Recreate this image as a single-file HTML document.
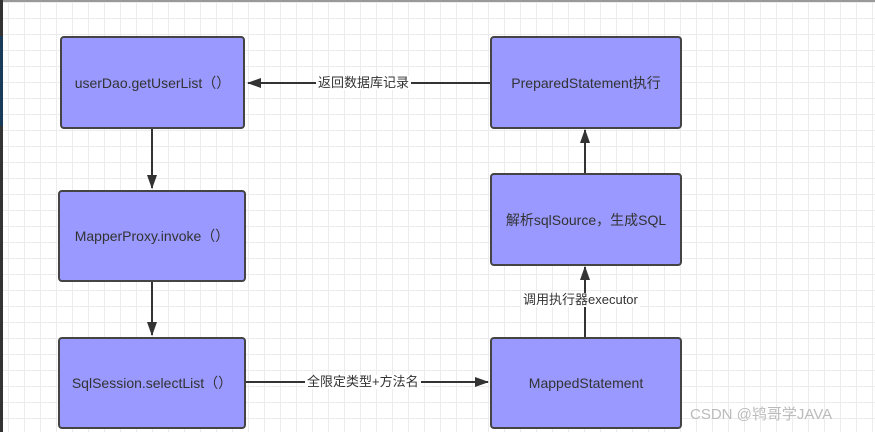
<!DOCTYPE html>
<html><head><meta charset="utf-8"><style>
body{margin:0;width:875px;height:432px;overflow:hidden;background:#fff;
background-image:linear-gradient(#ececec 1px,transparent 1px),linear-gradient(90deg,#ececec 1px,transparent 1px);background-size:16px 16px;background-position:8px 2px;font-family:"Liberation Sans","Noto Sans CJK SC",sans-serif;position:relative}
.b{position:absolute;background:#9999ff;border:2px solid #444;border-radius:4px;box-sizing:border-box;display:flex;align-items:center;justify-content:center;font-size:14px;color:#333}
.l{position:absolute;background:#fff;font-size:13px;color:#333;padding:0 2px;line-height:14px}
</style></head><body>
<div style="position:absolute;left:0;top:0;width:875px;height:2px;background:#999"></div>
<div style="position:absolute;left:0;top:0;width:3px;height:432px;background:#333"></div>
<div style="position:absolute;left:0;top:36px;width:3px;height:90px;background:#1a3a5a"></div>
<svg width="875" height="432" style="position:absolute;left:0;top:0">
<defs><marker id="a" markerWidth="14" markerHeight="10" refX="13" refY="5" orient="auto" markerUnits="userSpaceOnUse"><path d="M0,0L14,5L0,10z" fill="#333"/></marker></defs>
<g stroke="#333" stroke-width="2" fill="none">
<line x1="490" y1="83" x2="248" y2="83" marker-end="url(#a)"/>
<line x1="152" y1="128" x2="152" y2="188" marker-end="url(#a)"/>
<line x1="152" y1="282" x2="152" y2="335" marker-end="url(#a)"/>
<line x1="246" y1="382" x2="488" y2="382" marker-end="url(#a)"/>
<line x1="585" y1="337" x2="585" y2="267" marker-end="url(#a)"/>
<line x1="585" y1="173" x2="585" y2="130" marker-end="url(#a)"/>
</g></svg>
<div class="b" style="left:60px;top:36px;width:185px;height:93px">userDao.getUserList（）</div>
<div class="b" style="left:58px;top:190px;width:188px;height:92px">MapperProxy.invoke（）</div>
<div class="b" style="left:58px;top:337px;width:188px;height:92px">SqlSession.selectList（）</div>
<div class="b" style="left:490px;top:36px;width:192px;height:93px">PreparedStatement执行</div>
<div class="b" style="left:490px;top:173px;width:192px;height:93px">解析sqlSource，生成SQL</div>
<div class="b" style="left:490px;top:337px;width:192px;height:92px">MappedStatement</div>
<div class="l" style="left:316px;top:76px">返回数据库记录</div>
<div class="l" style="left:305px;top:375px">全限定类型+方法名</div>
<div class="l" style="left:521px;top:293px">调用执行器executor</div>
<div style="position:absolute;left:690px;top:403px;font-size:15px;color:#bbb">CSDN @鸨哥学JAVA</div>
</body></html>
